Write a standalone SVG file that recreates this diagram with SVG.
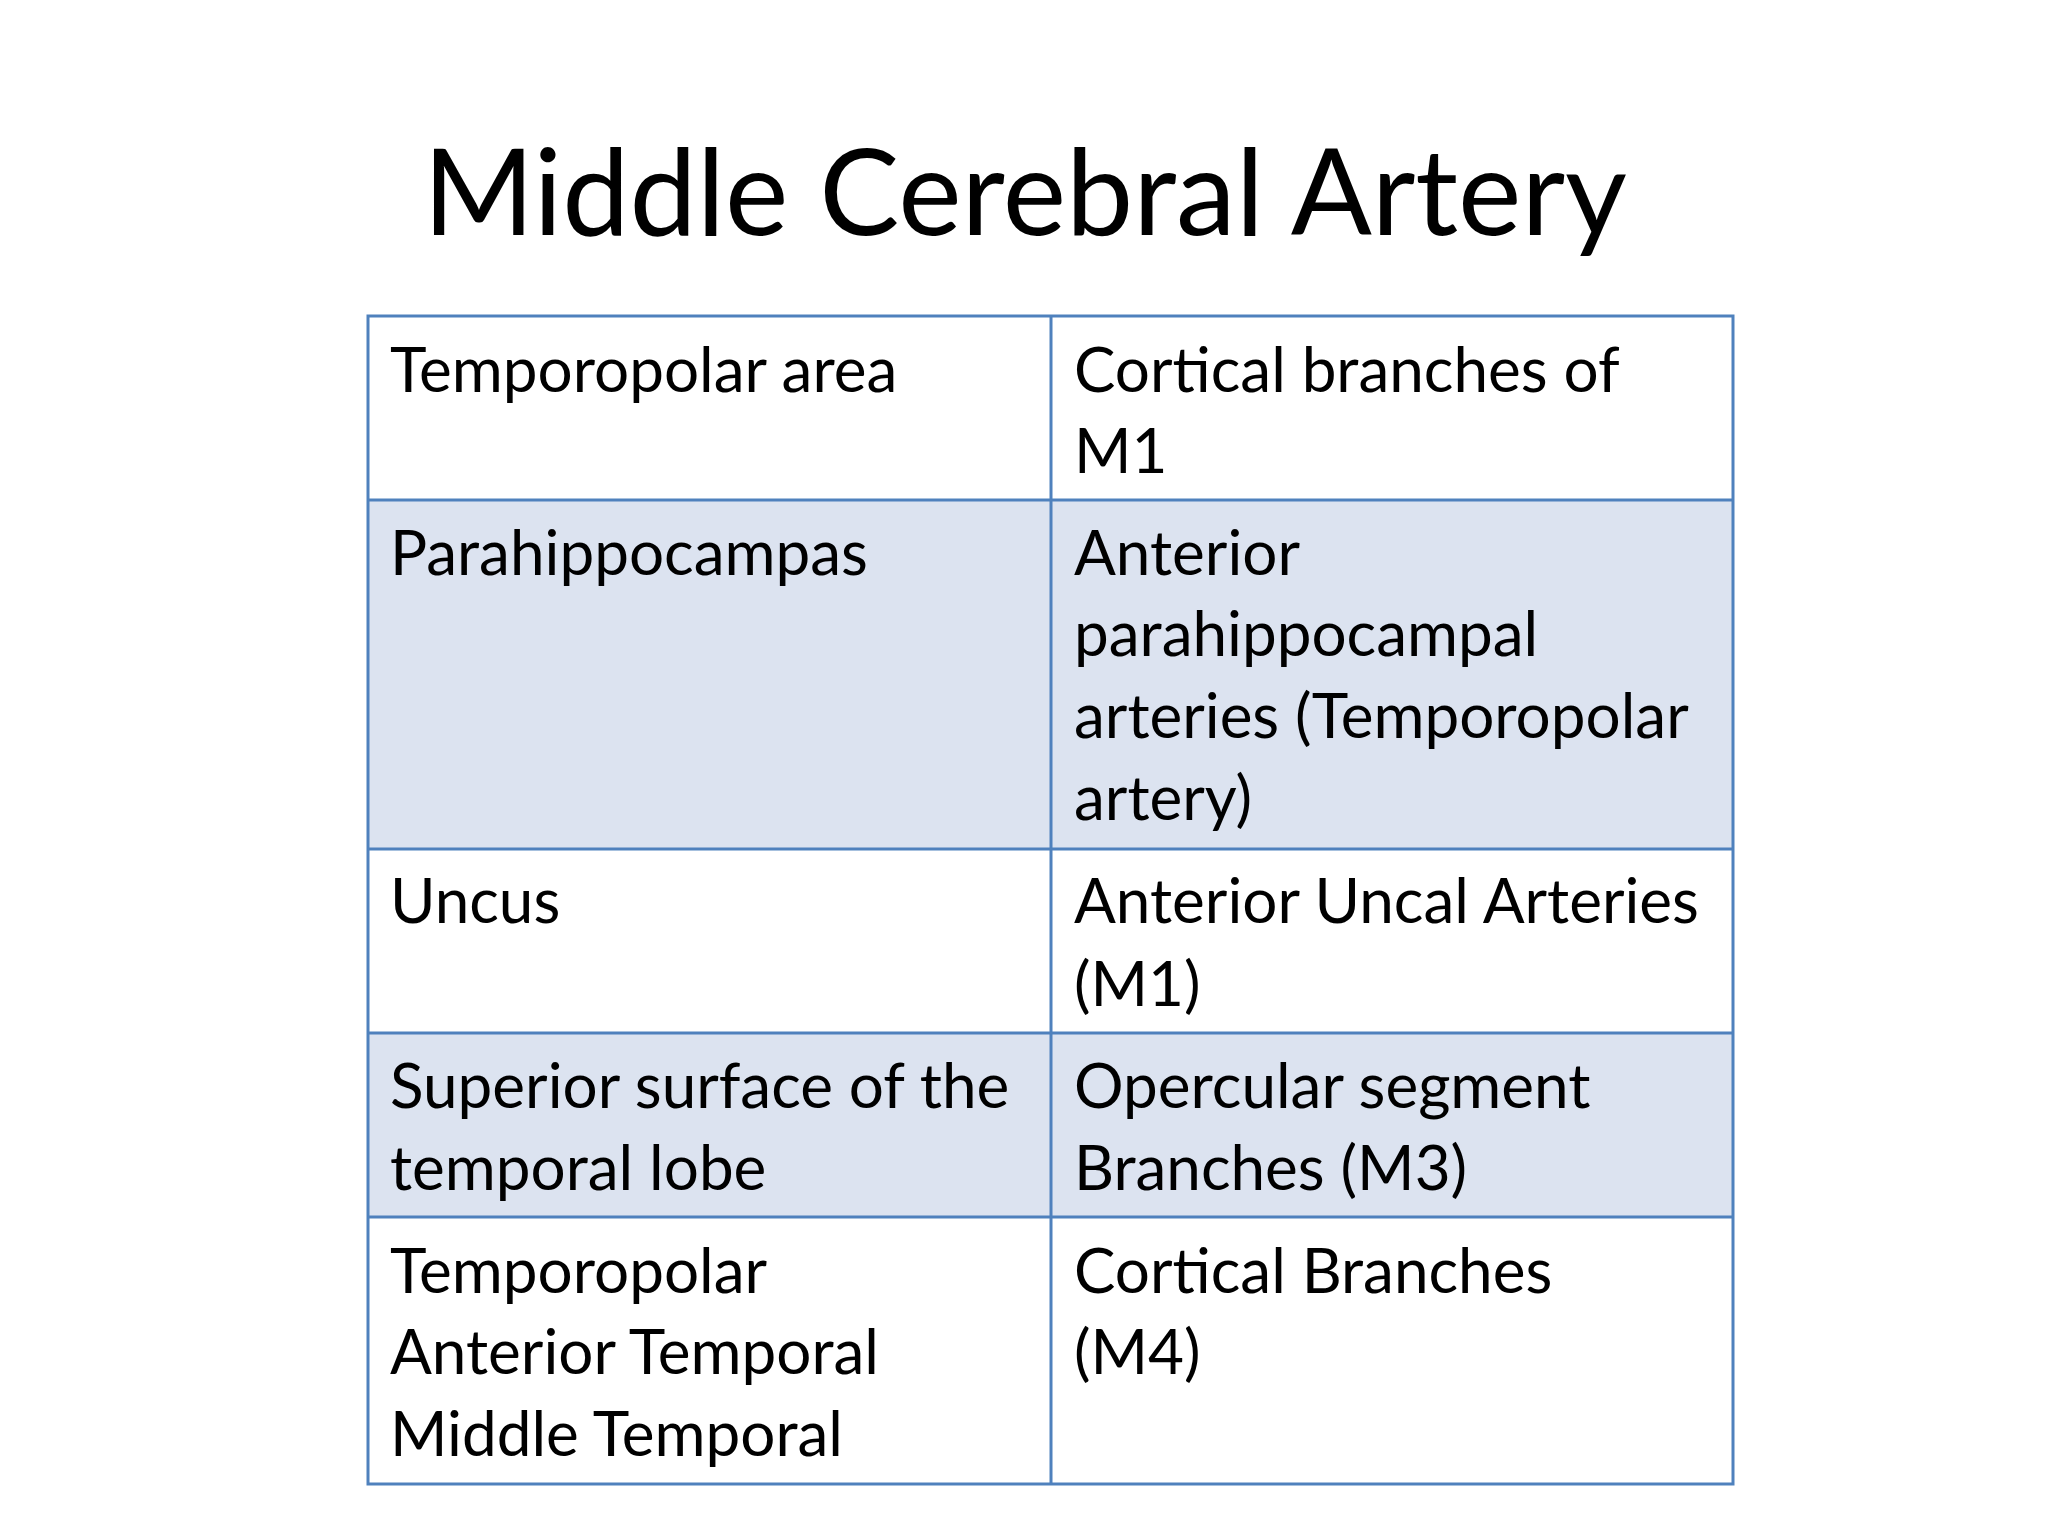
<svg xmlns="http://www.w3.org/2000/svg" width="2048" height="1536" viewBox="0 0 2048 1536">
<style>
.t{font-family:Lato,"Open Sans",sans-serif;font-size:62px;fill:#000}
.h{font-family:Lato,"Open Sans",sans-serif;font-size:120px;fill:#000;text-anchor:middle}
.b{fill:#DCE3F0}
.ln{stroke:#4F81BD;stroke-width:3;fill:none}
</style>
<rect width="2048" height="1536" fill="#fff"/>
<text class="h" x="1025" y="235">Middle Cerebral Artery</text>
<g id="fills">
<rect class="b" x="368" y="500" width="1365" height="349"/>
<rect class="b" x="368" y="1033" width="1365" height="184"/>
</g>
<g id="grid">
<rect class="ln" x="368" y="316" width="1365" height="1168"/>
<line class="ln" x1="1051" y1="316" x2="1051" y2="1484"/>
<line class="ln" x1="368" y1="500" x2="1733" y2="500" stroke-width="4"/>
<line class="ln" x1="368" y1="849" x2="1733" y2="849"/>
<line class="ln" x1="368" y1="1033" x2="1733" y2="1033"/>
<line class="ln" x1="368" y1="1217" x2="1733" y2="1217"/>
</g>
<g id="row1">
<text class="t" x="390" y="392">Temporopolar area</text>
<text class="t" x="1074" y="392">Cortical branches of</text>
<text class="t" x="1074" y="473">M1</text>
</g>
<g id="row2">
<text class="t" x="390" y="575">Parahippocampas</text>
<text class="t" x="1074" y="575">Anterior</text>
<text class="t" x="1074" y="656">parahippocampal</text>
<text class="t" x="1074" y="738">arteries (Temporopolar</text>
<text class="t" x="1074" y="820">artery)</text>
</g>
<g id="row3">
<text class="t" x="390" y="923">Uncus</text>
<text class="t" x="1074" y="923">Anterior Uncal Arteries</text>
<text class="t" x="1074" y="1006">(M1)</text>
</g>
<g id="row4">
<text class="t" x="390" y="1108">Superior surface of the</text>
<text class="t" x="390" y="1190">temporal lobe</text>
<text class="t" x="1074" y="1108">Opercular segment</text>
<text class="t" x="1074" y="1190">Branches (M3)</text>
</g>
<g id="row5">
<text class="t" x="390" y="1293">Temporopolar</text>
<text class="t" x="390" y="1374">Anterior Temporal</text>
<text class="t" x="390" y="1456">Middle Temporal</text>
<text class="t" x="1074" y="1293">Cortical Branches</text>
<text class="t" x="1074" y="1374">(M4)</text>
</g>
</svg>
